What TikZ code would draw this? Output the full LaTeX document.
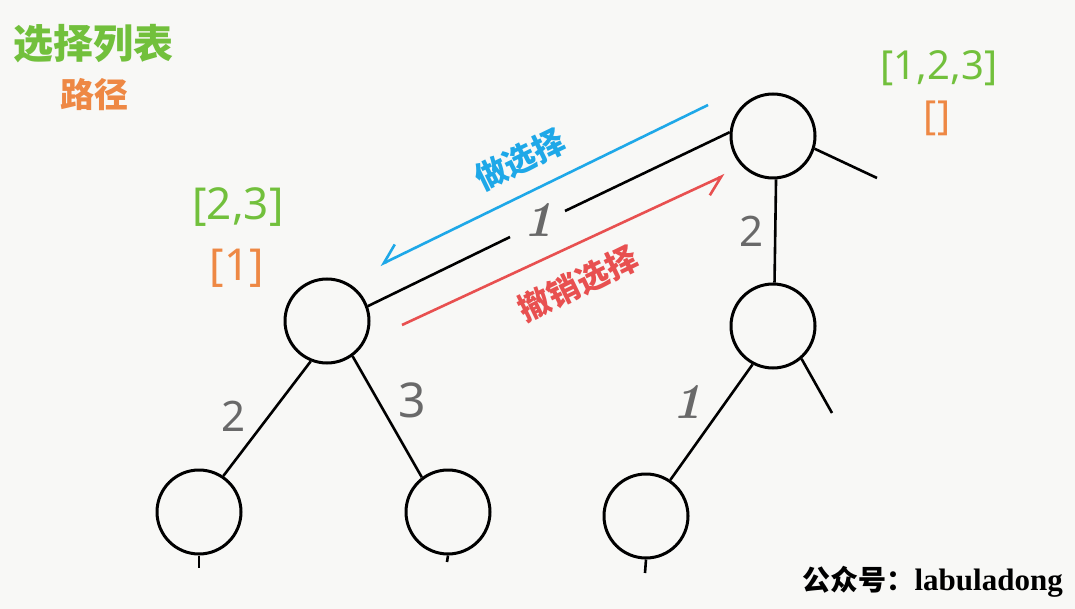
\documentclass[tikz,border=0pt]{standalone}
\usepackage{fontspec}
\newfontfamily\cjk{Noto Sans CJK SC}
\newfontfamily\numfont{Noto Sans}
\newfontfamily\serifl{Liberation Serif}
\usetikzlibrary{arrows.meta}
\definecolor{bg}{RGB}{248,248,246}
\definecolor{lgreen}{RGB}{114,192,60}
\definecolor{lorange}{RGB}{238,136,68}
\definecolor{lblue}{RGB}{30,168,232}
\definecolor{lred}{RGB}{232,80,80}
\definecolor{lgray}{RGB}{105,105,105}
\begin{document}
\begin{tikzpicture}[x=1pt,y=-1pt,
  tnode/.style={circle,draw=black,line width=3pt,minimum size=84pt,inner sep=0pt},
  edge/.style={line width=2.6pt,black},
  elabel/.style={text=lgray,font=\fontsize{50}{50}\selectfont\bfseries\itshape,inner sep=0pt},
  elabelb/.style={text=lgray,font=\numfont\fontsize{42}{42}\selectfont\bfseries,inner sep=0pt},
  harrow/.style={line width=2.6pt,-{Straight Barb[harpoon,swap,length=18pt,width=24pt,line width=2.6pt]}},
  greentxt/.style={text=lgreen,inner sep=0pt},
  orangetxt/.style={text=lorange,inner sep=0pt},
]
\fill[bg] (0,0) rectangle (1075,609);
\useasboundingbox (0,0) rectangle (1075,609);

% tree nodes
\node[tnode] (root) at (773,136) {};
\node[tnode] (A) at (327,321) {};
\node[tnode] (B) at (773,326) {};
\node[tnode] (LL) at (199,512) {};
\node[tnode] (LR) at (448,512) {};
\node[tnode] (RL) at (646,516) {};

% free ends
\coordinate (g1) at (565,211);
\coordinate (g2) at (510,237);
\coordinate (rs) at (877,178);
\coordinate (bs) at (832,413);
\coordinate (lls) at (199,568);
\coordinate (lrs) at (447,562);
\coordinate (rls) at (645,573);

% edges
\draw[edge] (root.175) -- (g1);
\draw[edge] (g2) -- (A.20);
\draw[edge] (root.-17) -- (rs);
\draw[edge] (root.-86) -- (B.88);
\draw[edge] (B.-49) -- (bs);
\draw[edge] (B.-118) -- (RL.56);
\draw[edge] (A.-112) -- (LL.56);
\draw[edge] (A.-54) -- (LR.127);
\draw[edge] (LL.south) -- (lls);
\draw[edge] (LR.south) -- (lrs);
\draw[edge] (RL.south) -- (rls);

% edge labels
\node[elabel] (l1) at (538,220) {1};
\node[elabelb] (l2) at (751,231) {2};
\node[elabel] (l3) at (687,402) {1};
\node[elabelb] (l4) at (234,416) {2};
\node[elabelb,font=\numfont\fontsize{48}{48}\selectfont\bfseries] (l5) at (412,400) {3};

% arrows
\coordinate (b1) at (708,105);
\coordinate (b2) at (380,265);
\draw[harrow,lblue] (b1) -- (b2);
\coordinate (r1) at (402,325);
\coordinate (r2) at (725,175);
\draw[harrow,lred] (r1) -- (r2);

\node[rotate=26,text=lblue,font=\cjk\bfseries\fontsize{32}{32}\selectfont,inner sep=0pt] (t1) at (520,160) {做选择};
\node[rotate=26,text=lred,font=\cjk\bfseries\fontsize{32}{32}\selectfont,inner sep=0pt] (t2) at (578,284) {撤销选择};

% legend
\node[greentxt,font=\cjk\bfseries\fontsize{40}{40}\selectfont] (lg1) at (93,44) {选择列表};
\node[orangetxt,font=\cjk\bfseries\fontsize{34}{34}\selectfont] (lg2) at (94,95) {路径};

% state labels
\node[greentxt,font=\numfont\fontsize{40}{40}\selectfont] (s1) at (939,68) {[1,2,3]};
\node[orangetxt,font=\numfont\fontsize{40}{40}\selectfont] (s2) at (937,118) {[]};
\node[greentxt,font=\numfont\fontsize{44}{44}\selectfont] (s3) at (238,207) {[2,3]};
\node[orangetxt,font=\numfont\fontsize{44}{44}\selectfont] (s4) at (237,268) {[1]};

% watermark
\node[anchor=base east,inner sep=0pt] (wm) at (1063,590) {\cjk\bfseries\fontsize{28}{28}\selectfont 公众号：\serifl\bfseries\fontsize{31}{31}\selectfont labuladong};
\end{tikzpicture}
\end{document}
